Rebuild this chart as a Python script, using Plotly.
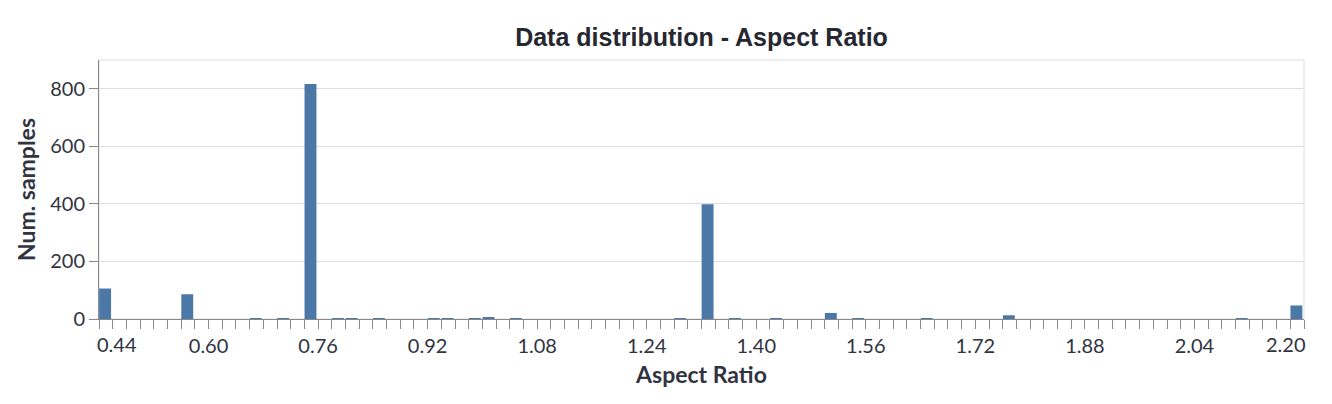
import numpy as np
import plotly.graph_objects as go

# histogram of aspect ratios, bins of 0.02 (only non-empty bins listed)
bin_start = [0.44, 0.56, 0.66, 0.70, 0.74, 0.78, 0.80, 0.84, 0.92, 0.94,
             0.98, 1.00, 1.04, 1.28, 1.32, 1.36, 1.42, 1.50, 1.54, 1.64,
             1.76, 2.10, 2.18]
num_samples = [106, 86, 1, 1, 817, 1, 1, 1, 1, 1,
               1, 4, 1, 2, 399, 1, 1, 21, 1, 1,
               13, 1, 47]

bin_width = 0.02
x_min, x_max = 0.44, 2.20
major_ticks = [0.44, 0.60, 0.76, 0.92, 1.08, 1.24, 1.40, 1.56, 1.72, 1.88, 2.04, 2.20]
y_ticks = [0, 200, 400, 600, 800]

text_color = '#31333F'
tick_font = dict(family='Lato, Source Sans Pro, sans-serif', size=20, color=text_color)
title_font = dict(family='Lato, Source Sans Pro, sans-serif', size=23, color=text_color)

# page body has an 8px margin, so the figure is a bit smaller than the window
W, H = 1316, 388

fig = go.Figure()
fig.add_trace(go.Bar(x=bin_start,
                     y=num_samples,
                     width=bin_width * 0.87,
                     offset=0.0002,
                     marker=dict(color='#4c78a8', line=dict(width=0)),
                     hovertemplate='%{x}: %{y}<extra></extra>'))

# first / last label flush with the axis ends (like vega)
ticktext = ['' if v in (x_min, x_max) else '%.2f' % v for v in major_ticks]
annotations = [
    dict(x=x_min, y=0, xref='x', yref='paper', text='%.2f' % x_min, showarrow=False,
         xanchor='left', yanchor='top', yshift=-11, xshift=-4, font=tick_font),
    dict(x=x_max, y=0, xref='x', yref='paper', text='%.2f' % x_max, showarrow=False,
         xanchor='right', yanchor='top', yshift=-11, xshift=4, font=tick_font),
]

fig.update_layout(
    width=W, height=H,
    margin=dict(l=91, r=20, t=52, b=77, autoexpand=False),
    paper_bgcolor='white', plot_bgcolor='white',
    showlegend=False,
    annotations=annotations,
    title=dict(text='<b>Data distribution - Aspect Ratio</b>',
               x=0.5, xref='paper', xanchor='center',
               y=1 - 29 / H, yref='container', yanchor='middle',
               font=dict(family='Liberation Sans, Arial, sans-serif', size=25, color='#262730')),
    shapes=[dict(type='rect', xref='paper', yref='paper', x0=0, x1=1, y0=0, y1=1,
                 line=dict(color='#dddddd', width=1), layer='below')],
)

fig.update_xaxes(range=[x_min, x_max], automargin=False,
                 tickmode='array', tickvals=major_ticks, ticktext=ticktext,
                 ticks='outside', ticklen=9, tickwidth=1, tickcolor='#888888',
                 minor=dict(tickmode='array',
                            tickvals=list(np.round(np.arange(x_min, x_max + 0.001, bin_width), 2)),
                            ticks='outside', ticklen=9, tickwidth=1, tickcolor='#888888',
                            showgrid=False),
                 showline=True, linecolor='#888888', linewidth=1,
                 showgrid=False, zeroline=False,
                 tickfont=tick_font,
                 title=dict(text='<b>Aspect Ratio</b>', font=title_font, standoff=10))

fig.update_yaxes(range=[0, 900], automargin=False,
                 tickmode='array', tickvals=y_ticks,
                 ticks='outside', ticklen=9, tickwidth=1, tickcolor='#888888',
                 showline=True, linecolor='#888888', linewidth=1,
                 showgrid=True, gridcolor='#dddddd', gridwidth=1, zeroline=False,
                 tickfont=tick_font,
                 title=dict(text='<b>Num. samples</b>', font=title_font, standoff=8))

fig.write_html("out.html")
